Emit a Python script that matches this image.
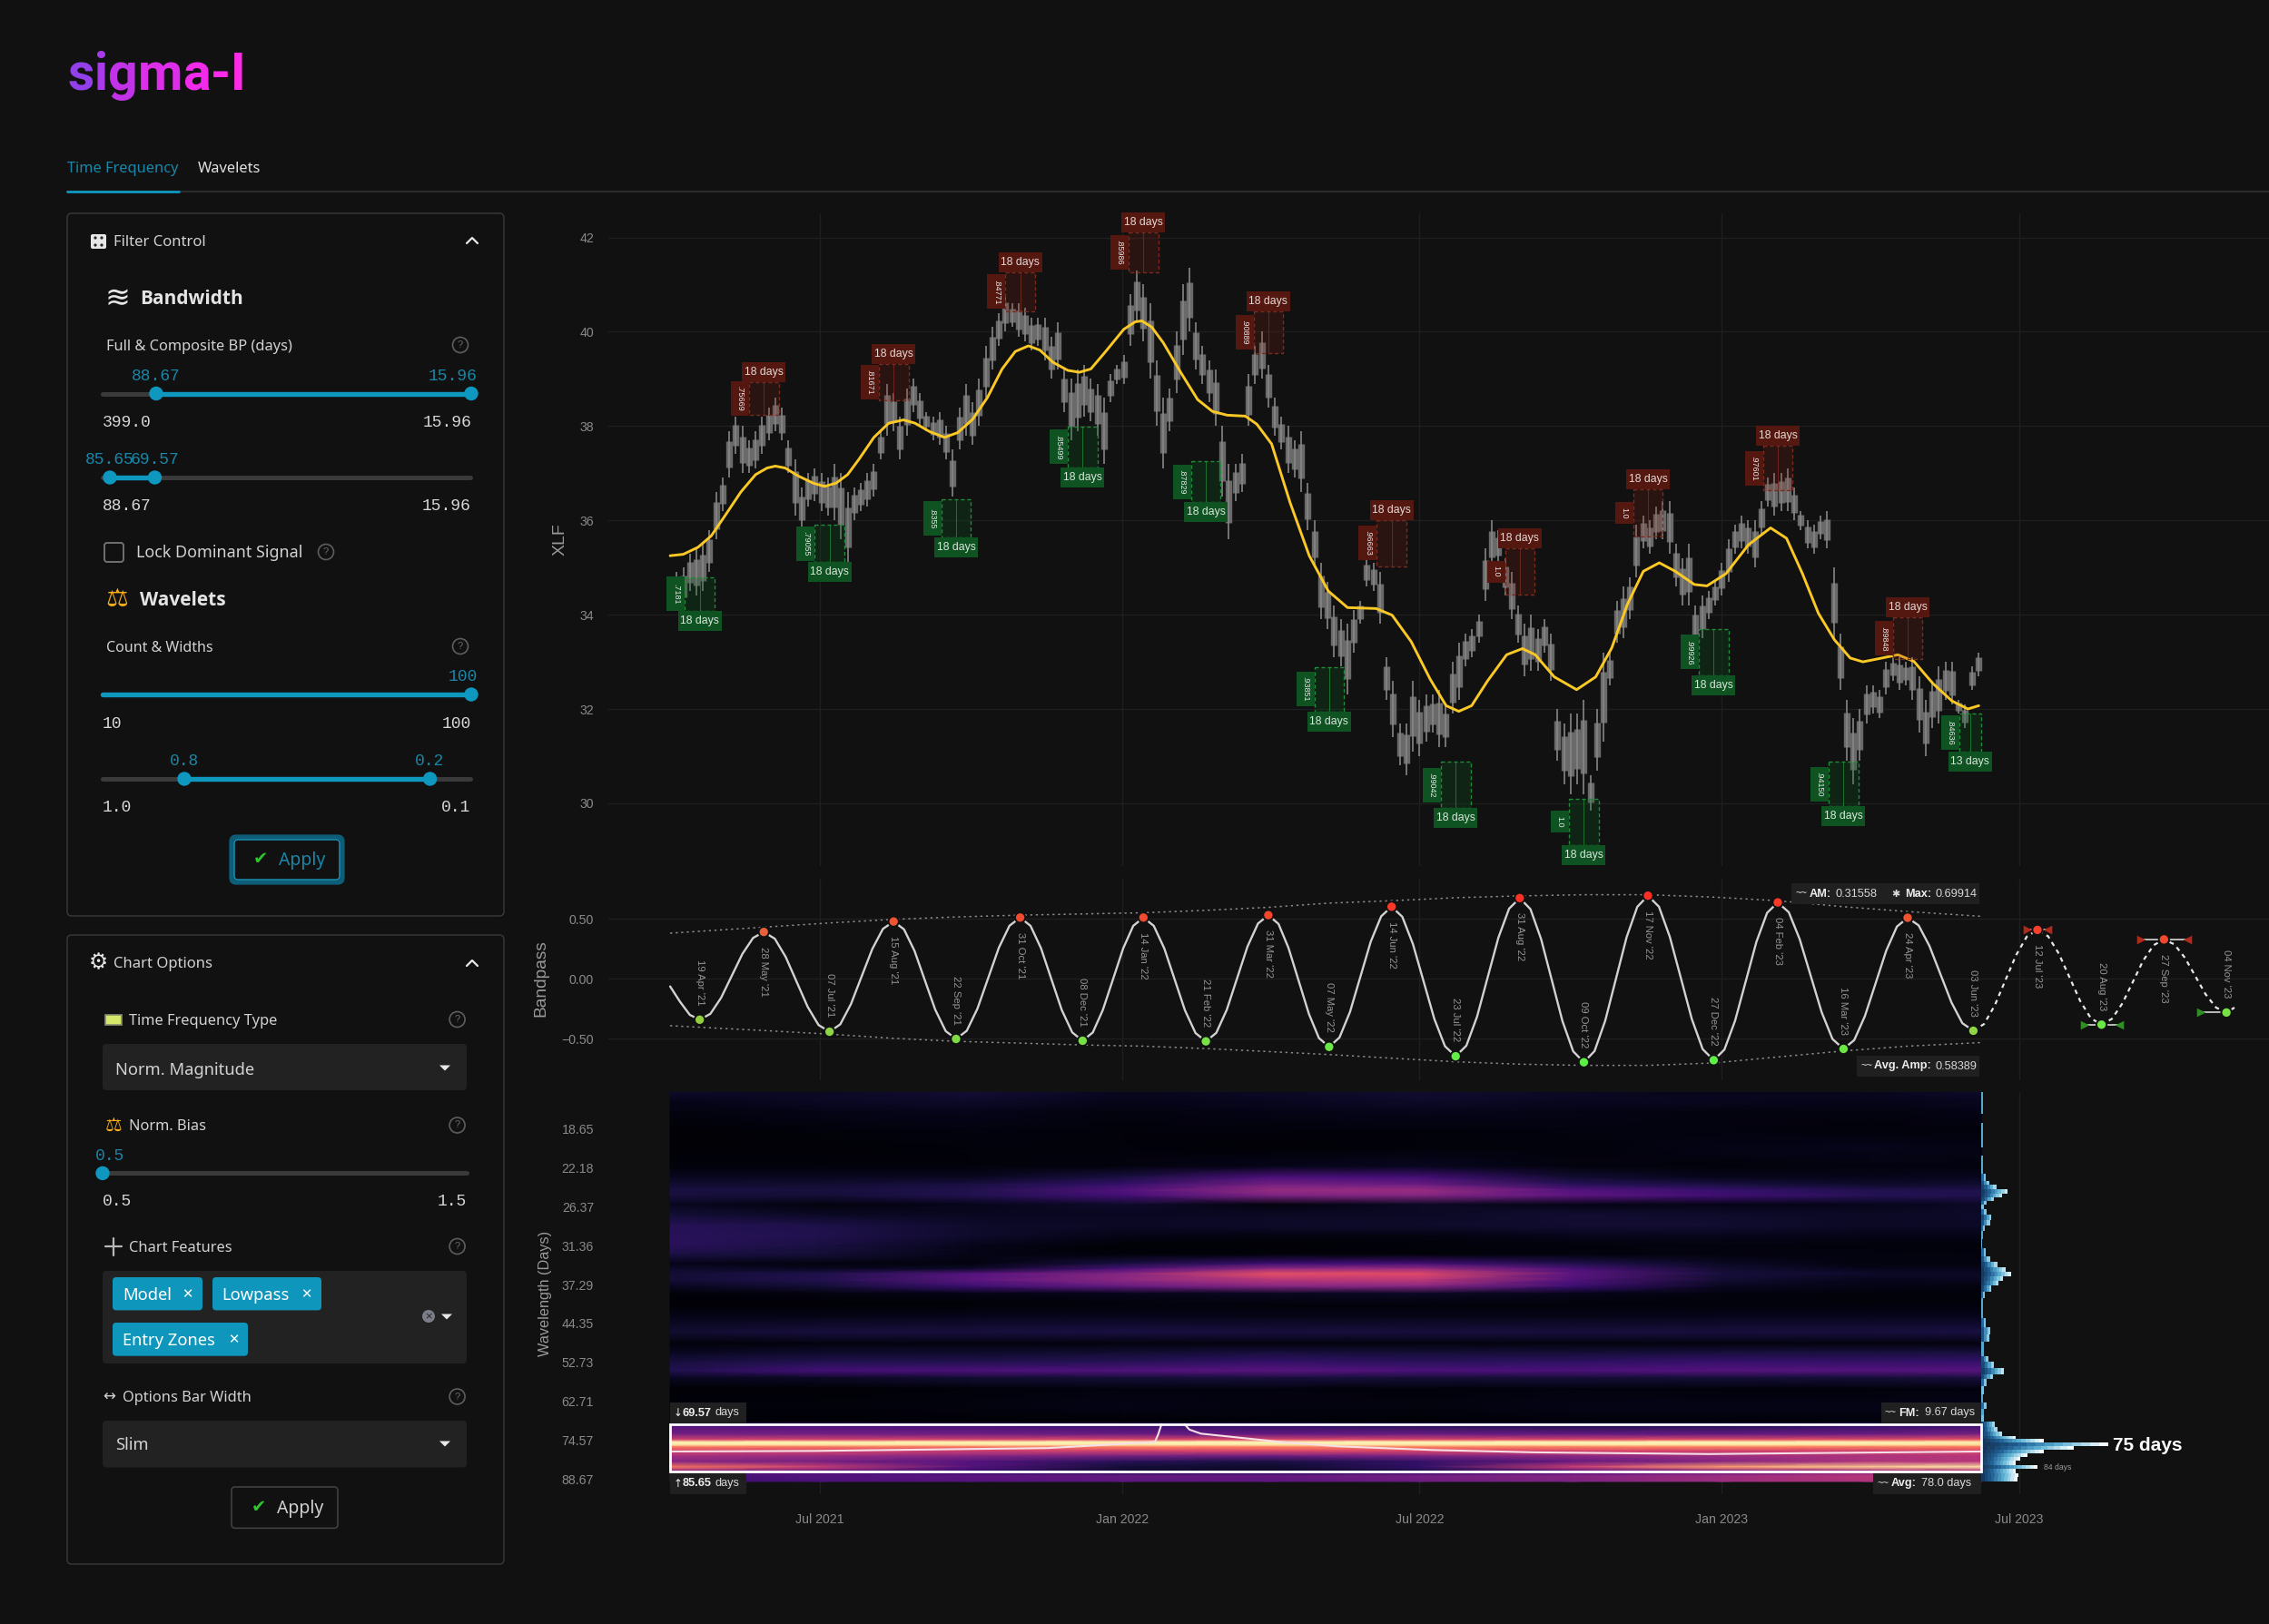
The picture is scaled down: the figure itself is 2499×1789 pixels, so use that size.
import numpy as np, pandas as pd, seaborn as sns
import matplotlib
matplotlib.use("Agg")
import matplotlib.pyplot as plt
import matplotlib.dates as mdates
from matplotlib.patches import Rectangle, FancyBboxPatch, Circle, Polygon
from matplotlib.colors import LinearSegmentedColormap
from matplotlib.ticker import NullLocator

# ---------------- data ----------------
START = pd.Timestamp("2021-04-01")
PRICE_LOW = [34.1,34.3,34.2,34.5,34.4,34.5,34.9,35.6,36.2,36.9,37.4,37.0,37.0,37.1,37.4,37.7,37.9,37.7,37.0,36.1,
 35.8,36.3,36.4,36.2,36.1,36.0,35.6,35.1,36.0,36.2,36.3,36.5,37.3,37.8,37.9,37.3,37.8,38.3,38.0,37.9,
 37.7,37.6,37.3,36.5,37.5,37.8,37.6,38.0,38.6,39.2,39.7,40.0,40.1,39.9,39.8,39.6,39.7,39.4,39.0,39.2,
 38.3,37.7,37.9,38.2,38.1,37.8,37.2,38.5,38.9,38.9,39.7,40.2,39.8,39.0,38.0,37.1,37.9,38.7,39.5,40.0,
 39.2,38.9,38.5,38.0,36.5,35.6,36.4,36.6,38.0,38.9,39.0,38.4,37.8,37.5,37.0,36.9,36.6,35.8,35.0,33.9,
 33.7,33.1,32.9,32.3,33.2,33.8,34.6,34.5,33.8,32.2,31.4,30.8,30.6,31.1,31.0,31.3,31.5,31.2,31.2,31.9,
 32.2,32.9,33.1,33.4,34.3,35.0,35.1,34.4,33.9,33.4,32.7,32.8,32.8,33.2,32.6,30.9,30.4,30.2,30.4,30.2,
 29.85,30.7,31.3,32.5,33.4,33.5,33.9,34.8,35.4,35.3,35.6,35.6,35.3,34.6,34.2,34.2,33.3,33.5,33.9,34.2,
 34.4,34.7,35.3,35.4,35.3,35.0,35.7,36.3,36.1,36.2,36.2,36.0,35.8,35.4,35.3,35.6,35.4,33.5,32.4,30.9,
 30.4,30.9,31.7,31.9,31.8,32.3,32.6,32.4,32.5,32.2,31.5,31.0,31.6,31.7,32.2,32.1,31.9,31.6,32.4,32.7]
PRICE_HIGH = [34.7,34.9,35.0,35.3,35.4,35.5,35.8,36.6,36.9,37.9,38.2,38.0,37.7,37.9,38.2,38.4,38.6,38.4,37.7,37.3,
 36.7,37.0,37.1,37.0,36.9,37.2,37.0,36.6,36.7,36.8,37.0,37.2,37.9,38.9,38.7,38.2,38.8,39.0,38.7,38.3,
 38.2,38.3,38.0,37.5,38.4,38.9,38.5,39.0,39.7,40.1,40.4,40.8,40.6,40.6,40.5,40.3,40.3,40.3,39.9,40.2,
 39.2,39.0,39.2,39.3,39.0,38.9,38.6,39.1,39.3,39.5,40.8,41.3,41.0,40.6,39.4,38.6,38.8,40.0,41.0,41.35,
 40.2,39.7,39.4,39.2,38.0,37.2,37.2,37.4,39.1,39.7,40.0,39.3,38.6,38.2,38.0,37.7,37.9,36.8,36.0,35.1,
 34.7,34.2,33.9,33.8,34.1,34.3,35.2,35.1,34.9,33.1,32.6,31.7,31.7,32.6,32.2,32.3,32.3,32.4,32.1,33.0,
 33.4,33.6,33.7,34.0,35.4,36.0,35.8,35.2,34.9,34.2,33.8,34.0,33.7,33.9,33.6,32.0,31.7,31.9,31.9,32.2,
 30.6,32.0,33.2,33.2,34.3,34.6,34.8,35.9,36.1,36.0,36.3,36.4,36.4,35.5,35.2,35.5,34.2,34.4,34.5,34.7,
 35.1,35.6,35.9,36.1,36.0,36.0,36.4,36.9,37.0,37.0,37.1,36.7,36.2,36.0,35.9,36.1,36.2,35.0,33.6,32.2,
 31.8,32.0,32.5,32.5,32.4,33.0,33.1,33.1,33.0,33.1,32.7,32.2,32.6,32.9,33.0,33.0,32.2,32.1,32.9,33.2]

LOWPASS_DAYS = [0,8,17,25,34,43,52,59,64,70,78,87,94,101,108,115,124,133,142,149,158,167,175,184,193,202,210,218,225,233,
 242,249,256,265,276,283,287,293,300,311,321,330,339,350,357,366,377.3,388.9,400.5,412.2,429.6,439.3,450.9,462.5,472.2,
 479.9,487.7,497.3,509,518.6,526.4,538,551.6,563.2,572.9,582.5,592.2,601.9,611.6,623.2,630.9,642.5,656.1,669.6,679.3,
 689,698.7,708.4,718.1,725.8,737.4,747.1,756.8,768.4,780,789.7,796.3]
LOWPASS = [35.25,35.28,35.43,35.67,36.13,36.6,36.97,37.11,37.15,37.11,36.94,36.79,36.72,36.79,36.97,37.3,37.76,38.06,38.13,38.06,
 37.88,37.76,37.86,38.14,38.6,39.21,39.58,39.7,39.61,39.35,39.18,39.14,39.21,39.58,40.05,40.21,40.23,40.1,39.77,39.12,
 38.56,38.31,38.23,38.21,38.04,37.62,36.37,35.25,34.5,34.15,34.13,33.99,33.43,32.63,32.07,31.95,32.07,32.59,33.15,33.28,
 33.15,32.68,32.41,32.68,33.29,34.22,34.92,35.1,34.92,34.64,34.61,34.87,35.48,35.84,35.62,34.87,34.03,33.47,33.08,33.0,
 33.08,33.15,33.01,32.54,32.17,32.0,32.07]

BAND_DAYS = [0,6,12,18,24.5,31,37.5,44,50.5,57,63.7,70.3,77,83.7,90.3,97,103.5,110,116.5,123,129.5,136,142.3,148.7,155,161.3,167.7,174,
 180.5,187,193.5,200,206.5,213,219.3,225.7,232,238.3,244.7,251,257.2,263.3,269.5,275.7,281.8,288,294.3,300.7,307,313.3,319.7,326,
 332.3,338.7,345,351.3,357.7,364,370.2,376.3,382.5,388.7,394.8,401,407.3,413.7,420,426.3,432.7,439,445.5,452,458.5,465,471.5,478,
 484.5,491,497.5,504,510.5,517,523.5,530,536.5,543,549.5,556,562.5,569,575.5,582,588.5,595,601.7,608.3,615,621.7,628.3,635,
 641.5,648,654.5,661,667.5,674,680.7,687.3,694,700.7,707.3,714,720.5,727,733.5,740,746.5,753,759.7,766.3,773,779.7,786.3,793]
BAND = [-.063,-.19,-.30,-.34,-.291,-.158,.025,.208,.341,.39,.334,.183,-.025,-.233,-.384,-.44,-.379,-.211,.019,.248,.416,.477,.412,.233,-.012,-.256,-.435,-.50,
 -.432,-.248,.005,.258,.442,.51,.441,.254,-.003,-.259,-.446,-.515,-.446,-.259,-.003,.254,.441,.51,.441,.253,-.005,-.263,-.451,-.52,
 -.45,-.258,.005,.268,.46,.53,.457,.256,-.018,-.292,-.493,-.566,-.488,-.275,.017,.309,.521,.6,.517,.289,-.022,-.333,-.561,-.644,
 -.556,-.315,.014,.343,.584,.672,.58,.33,-.011,-.353,-.603,-.694,-.601,-.348,-.001,.346,.599,.692,.6,.35,.008,-.335,-.585,-.677,
 -.589,-.349,-.021,.308,.549,.636,.554,.331,.027,-.278,-.501,-.583,-.51,-.31,-.038,.235,.435,.508,.445,.273,.038,-.197,-.369,-.432]
FORECAST_DAYS = [793,799.5,806,812.5,819,825.5,832,838.5,845,851.5,858,864.5,871,877.3,883.7,890,896.3,902.7,909,915.3,921.7,928,934.3,940.7,947,953]
FORECAST = [-.432,-.376,-.222,-.012,.197,.351,.407,.354,.21,.013,-.184,-.328,-.381,-.333,-.204,-.027,.151,.28,.328,.287,.176,.024,-.128,-.239,-.28,-.23]
ENV_DAYS = [0,57,97,136,174,213,251,288,326,364,401,439,478,517,556,595,635,674,714,753,798]
ENV_UP = [.38,.43,.465,.495,.515,.53,.54,.55,.57,.595,.63,.65,.675,.69,.70,.70,.68,.65,.60,.56,.52]
ENV_LOW = [-.39,-.43,-.46,-.495,-.52,-.535,-.55,-.56,-.58,-.605,-.63,-.66,-.69,-.71,-.72,-.72,-.70,-.65,-.60,-.56,-.53]

EXT_DATES = ["2021-04-19","2021-05-28","2021-07-07","2021-08-15","2021-09-22","2021-10-31","2021-12-08","2022-01-14","2022-02-21","2022-03-31","2022-05-07",
 "2022-06-14","2022-07-23","2022-08-31","2022-10-09","2022-11-17","2022-12-27","2023-02-04","2023-03-16","2023-04-24","2023-06-03",
 "2023-07-12","2023-08-20","2023-09-27","2023-11-04"]
EXT_LABELS = ["19 Apr '21","28 May '21","07 Jul '21","15 Aug '21","22 Sep '21","31 Oct '21","08 Dec '21","14 Jan '22","21 Feb '22","31 Mar '22","07 May '22",
 "14 Jun '22","23 Jul '22","31 Aug '22","09 Oct '22","17 Nov '22","27 Dec '22","04 Feb '23","16 Mar '23","24 Apr '23","03 Jun '23",
 "12 Jul '23","20 Aug '23","27 Sep '23","04 Nov '23"]
EXT_VALUES = [-.34,.39,-.44,.477,-.50,.51,-.515,.51,-.52,.53,-.566,.6,-.644,.672,-.694,.692,-.677,.636,-.583,.508,-.432,.407,-.381,.328,-.28]
EXT_COLORS = ["#93cf3e","#e8603a","#8ed645","#ee5332","#7fdb45","#f24a2e","#78e045","#f24a2e","#76e245","#f4462c","#6ae845",
 "#fa3a28","#62ec45","#fc3226","#5cf045","#fd2e24","#5fee45","#f93a28","#6ae645","#ee5332","#8ed645","#f4402c","#6ae845","#f4482e","#78e245"]
# forecast uncertainty in days: left, right
FC_SPREAD_LEFT = [6,10.5,14,15.5]
FC_SPREAD_RIGHT = [6,10.5,14,0]

RED_DATES = ["2021-05-28","2021-08-15","2021-10-31","2022-01-14","2022-03-31","2022-06-14","2022-08-31","2022-11-17","2023-02-04","2023-04-24"]
RED_TOP = [38.93,39.32,41.26,42.1,40.44,36.0,35.4,36.65,37.58,33.94]
RED_BOTTOM = [38.23,38.54,40.44,41.26,39.55,35.03,34.43,35.66,36.63,33.05]
RED_SCORE = [".75669",".81671",".84771",".85986",".90889",".96663","1.0","1.0",".97601",".89848"]
RED_WIDTH = [18]*10
GREEN_DATES = ["2021-04-19","2021-07-07","2021-09-22","2021-12-08","2022-02-21","2022-05-07","2022-07-23","2022-10-09","2022-12-27","2023-03-16","2023-06-01"]
GREEN_TOP = [34.8,35.9,36.45,37.98,37.25,32.89,30.88,30.1,33.7,30.88,31.9]
GREEN_BOTTOM = [34.08,35.12,35.64,37.13,36.38,31.95,29.9,29.12,32.71,29.94,31.09]
GREEN_SCORE = [".7181",".79055",".8355",".85499",".87829",".93851",".99042","1.0",".99926",".94150",".84636"]
GREEN_WIDTH = [18]*10+[13]

HEAT_DATES = ["2021-04-01","2021-07-01","2021-10-01","2022-01-01","2022-04-01","2022-07-01","2022-10-01","2023-01-01","2023-04-01","2023-06-08"]
HEAT_WL = [15.80,16.38,17.27,18.73,20.31,22.02,23.11,23.88,24.46,25.06,26.10,27.29,28.65,30.07,31.32,32.61,33.96,34.79,35.50,36.52,37.58,38.81,40.74,
 42.95,46.00,48.49,50.50,52.58,54.76,56.56,59.37,64.38,68.69,69.81,72.70,74.49,75.20,75.70,76.30,76.94,78.20,80.12,82.10,84.11,85.48,86.18,87.58,89.73]
HEAT = [
[.08,.07,.10,.06,.07,.09,.07,.05,.06,.08],[.05,.07,.08,.05,.06,.08,.06,.06,.05,.06],[.03,.04,.05,.03,.04,.05,.04,.03,.03,.04],
[.01,.02,.03,.02,.02,.02,.03,.03,.02,.02],[.01,.01,.02,.02,.01,.02,.02,.04,.05,.04],[.02,.02,.02,.03,.05,.06,.03,.02,.03,.03],
[.06,.06,.06,.12,.24,.22,.09,.05,.05,.06],[.09,.09,.12,.19,.34,.32,.16,.12,.08,.09],[.12,.11,.14,.25,.42,.43,.26,.19,.14,.13],
[.11,.10,.14,.22,.36,.38,.28,.21,.15,.14],[.06,.03,.05,.08,.03,.07,.04,.04,.05,.07],[.10,.07,.06,.06,.07,.07,.09,.08,.07,.08],
[.15,.13,.08,.07,.08,.08,.09,.09,.07,.07],[.16,.14,.08,.04,.03,.03,.05,.05,.04,.04],[.16,.12,.05,.01,.01,.02,.02,.03,.02,.02],
[.12,.10,.04,.02,.02,.02,.03,.03,.03,.03],[.05,.03,.03,.12,.20,.22,.14,.07,.03,.03],[.08,.06,.08,.24,.42,.44,.24,.09,.05,.05],
[.10,.13,.26,.38,.62,.60,.28,.11,.08,.07],[.10,.14,.28,.40,.50,.52,.26,.09,.05,.06],[.06,.10,.20,.30,.38,.38,.20,.06,.04,.03],
[.02,.03,.04,.05,.06,.07,.05,.03,.02,.02],[.01,.01,.01,.02,.02,.02,.02,.02,.02,.02],[.04,.04,.05,.05,.04,.04,.04,.05,.05,.05],
[.09,.11,.11,.12,.11,.11,.11,.11,.11,.12],[.02,.03,.03,.03,.03,.03,.03,.03,.03,.03],[.06,.08,.08,.09,.11,.10,.10,.11,.11,.11],
[.11,.14,.14,.15,.18,.16,.17,.19,.18,.19],[.14,.22,.24,.25,.27,.24,.24,.26,.26,.27],[.06,.07,.09,.10,.11,.10,.10,.10,.10,.11],
[.01,.01,.02,.03,.03,.02,.03,.02,.02,.03],[.02,.02,.03,.04,.03,.03,.04,.04,.04,.05],[.01,.01,.01,.01,.02,.01,.02,.02,.02,.03],
[.26,.24,.23,.20,.18,.16,.14,.15,.18,.20],[.34,.34,.33,.32,.30,.32,.30,.30,.32,.35],[.58,.58,.58,.60,.60,.60,.60,.62,.62,.64],
[.95,.95,.95,.96,.96,.96,.96,.96,.95,.94],[.98,.98,.98,.98,.98,.98,.98,.98,.97,.96],[.93,.93,.93,.94,.94,.94,.94,.94,.93,.92],
[.72,.72,.72,.74,.74,.74,.74,.74,.73,.72],[.58,.58,.56,.58,.60,.60,.60,.58,.58,.60],[.46,.43,.38,.34,.32,.36,.40,.44,.48,.50],
[.38,.34,.26,.16,.12,.18,.30,.38,.48,.50],[.72,.55,.26,.10,.08,.18,.55,.80,.90,.95],
[.42,.34,.20,.10,.08,.14,.30,.40,.46,.50],[.26,.24,.20,.16,.16,.20,.26,.32,.40,.44],[.22,.26,.28,.30,.30,.34,.38,.44,.50,.50],
[.20,.24,.26,.28,.28,.32,.36,.44,.48,.50]]
WL_TICKS = [18.65,22.18,26.37,31.36,37.29,44.35,52.73,62.71,74.57,88.67]
MODEL_DAYS = [0,89,159,230,265,295,297,299,np.nan,313,316,323,371,406,465,526,632,798]
MODEL_WL = [78.5,78.3,77.8,77.3,76.2,75.2,72.7,69.5,np.nan,69.5,71.2,72.5,75.2,76.7,78.0,78.8,79.4,78.5]

HIST_WL = [16.03,16.58,17.15,17.75,18.45,19.09,19.83,20.56,21.4,22.3,23.27,23.7,24.08,24.67,25.07,25.5,25.9,26.4,26.9,27.6,28.3,28.9,29.9,31.1,32.4,33.3,34.2,34.9,35.5,36.3,37.1,37.8,
 39.1,40.2,42.4,44.2,46.0,47.3,48.9,50.6,52.0,53.1,55.0,56.1,57.6,59.6,62.1,64.2,65.5,67.8,69.6,71.0,72.5,73.8,74.8,75.9,77.4,78.6,79.7,81.0,82.6,84.1,85.7,87.2,89.0]
HIST_VAL = [3,3,3,0,3,3,3,0,3,3,8,14,26,46,36,22,10,5,10,18,15,6,3,2,8,15,28,42,52,38,30,18,
 6,3,3,8,16,14,4,4,12,22,40,20,10,5,3,10,4,5,24,28,36,60,108,220,160,108,80,68,60,98,60,64,62]

XTICK_DATES = ["2021-07-01","2022-01-01","2022-07-01","2023-01-01","2023-07-01"]
PRICE_TICKS = [30,32,34,36,38,40,42]
BAND_TICKS = [-.5,0,.5]

# ---------------- style ----------------
W, H = 2499, 1789
BG = "#111111"; GRID = "#1f1f1f"; TICK = "#8a8a8a"; TEAL = "#1a86a8"; ACTIVE = "#0f98bf"
sns.set_theme(style="darkgrid", rc={"figure.facecolor": BG, "axes.facecolor": BG, "savefig.facecolor": BG,
    "grid.color": GRID, "grid.linewidth": 1.0, "axes.edgecolor": BG, "axes.linewidth": 0})
plt.rcParams["font.family"] = ["Liberation Sans", "DejaVu Sans"]
NARROW = ["Liberation Sans", "DejaVu Sans"]
SANS = ["Liberation Sans", "DejaVu Sans"]
UI = ["Noto Sans", "DejaVu Sans"]
HEAD = ["Open Sans", "DejaVu Sans"]
MONO = ["Liberation Mono", "DejaVu Sans Mono"]
SYM = ["DejaVu Sans"]

fig = plt.figure(figsize=(W/100, H/100), dpi=100, facecolor=BG)
def px_axes(l, t, r, b, **kw):
    return fig.add_axes([l/W, 1-b/H, (r-l)/W, (b-t)/H], **kw)
def when(days):
    return [START + pd.Timedelta(days=float(d)) for d in days]

XL = (START - pd.Timedelta(days=37.6), START + pd.Timedelta(days=972.9))
xticks = pd.to_datetime(XTICK_DATES)

def style(ax, yticks, labels):
    ax.set_xlim(*XL)
    ax.set_xticks(xticks)
    ax.set_yticks(yticks, labels=labels)
    ax.tick_params(axis="y", length=0, pad=11.5, labelsize=10.2, labelcolor=TICK)
    ax.tick_params(axis="x", length=0, labelbottom=False)
    ax.grid(True, color=GRID, lw=1)
    ax.set_xlabel(""); ax.set_ylabel("")
    ax.set_axisbelow(True)

# ---- price panel
ax = px_axes(670, 234.5, W, 954)
pdates = pd.date_range(START, periods=len(PRICE_LOW), freq="4D")
low, high = np.array(PRICE_LOW), np.array(PRICE_HIGH)
ax.vlines(pdates, low + (high-low)*.22, high - (high-low)*.22, color="#6a6a6a", lw=5.3, zorder=2)
ax.vlines(pdates, low, high, color="#868686", lw=1.2, zorder=2)
sns.lineplot(x=when(LOWPASS_DAYS), y=LOWPASS, ax=ax, color="#fbc925", lw=2.1, estimator=None, sort=False, zorder=4, solid_joinstyle="round")
ax.set_ylim(28.67, 42.52)
style(ax, PRICE_TICKS, [str(v) for v in PRICE_TICKS])

# ---- bandpass panel
bx = px_axes(670, 968, W, 1190)
sns.lineplot(x=when(ENV_DAYS), y=ENV_UP, ax=bx, color="#8a8a8a", lw=1.1, ls=(0, (1.5, 2.5)), estimator=None, sort=False)
sns.lineplot(x=when(ENV_DAYS), y=ENV_LOW, ax=bx, color="#8a8a8a", lw=1.1, ls=(0, (1.5, 2.5)), estimator=None, sort=False)
sns.lineplot(x=when(BAND_DAYS), y=BAND, ax=bx, color="#d2d2d2", lw=1.7, estimator=None, sort=False)
sns.lineplot(x=when(FORECAST_DAYS), y=FORECAST, ax=bx, color="#e8e8e8", lw=1.6, ls=(0, (2.2, 2.2)), estimator=None, sort=False)
ext = pd.to_datetime(EXT_DATES)
n_fc = len(FC_SPREAD_LEFT)
for i in range(n_fc):
    d = ext[-n_fc + i]; v = EXT_VALUES[-n_fc + i]
    up = v > 0
    col = "#b02a1c" if up else "#2f8f24"
    L = d - pd.Timedelta(days=FC_SPREAD_LEFT[i]); R = d + pd.Timedelta(days=FC_SPREAD_RIGHT[i])
    bx.plot([L, R], [v, v], color="#c8c8c8", lw=1.3, zorder=3)
    bx.scatter([L], [v], marker=">", s=48, color=col, zorder=4, linewidths=0)
    if FC_SPREAD_RIGHT[i] > 0:
        bx.scatter([R], [v], marker="<", s=48, color=col, zorder=4, linewidths=0)
sns.scatterplot(x=ext, y=EXT_VALUES, ax=bx, c=EXT_COLORS, s=66, edgecolor=BG, linewidth=1.4, zorder=5)
for d, v, lab in zip(ext, EXT_VALUES, EXT_LABELS):
    up = v > 0
    bx.annotate(lab, (d, v), xytext=(0, -11.5 if up else 11.5), textcoords="offset points", rotation=270,
                ha="center", va="top" if up else "bottom", fontsize=8.1, color="#959595", family=SANS, zorder=6)
bx.set_ylim(-.8437, .833)
style(bx, BAND_TICKS, ["\u22120.50", "0.00", "0.50"])

# ---- wavelet heat panel
hx = px_axes(670, 1203, W, 1646)
hx.set_yscale("log")
hdates = mdates.date2num(pd.to_datetime(HEAT_DATES))
hx.pcolormesh(hdates, np.array(HEAT_WL), np.array(HEAT), cmap="magma", vmin=0, vmax=1, shading="gouraud", zorder=2, rasterized=True)
md = mdates.date2num(START) + np.array(MODEL_DAYS, dtype=float)
hx.plot(md, MODEL_WL, color="#f6dfe6", lw=1.5, zorder=4)
hx.set_ylim(94.97, 15.80)
style(hx, WL_TICKS, [f"{v:.2f}" for v in WL_TICKS])
hx.yaxis.set_minor_locator(NullLocator())
hx.grid(True, axis="y", color=BG, lw=0)
hx.tick_params(axis="x", labelbottom=True, pad=15, labelsize=10.2, labelcolor=TICK)
hx.xaxis.set_major_formatter(mdates.DateFormatter("%b %Y"))

# ---- marginal histogram
mx = px_axes(2182, 1203, 2182+300, 1646, frameon=False)
mx.set_yscale("log"); mx.set_ylim(94.97, 15.80); mx.set_xlim(0, 300*1.5696)
mx.axis("off")
hw = np.array(HIST_WL)
edges = np.concatenate([[hw[0]*.985], np.sqrt(hw[:-1]*hw[1:]), [hw[-1]*1.01]])
bcm = LinearSegmentedColormap.from_list("b", ["#122a48", "#1f5f94", "#5fb4d6", "#f2fbfd"])
for i, v in enumerate(HIST_VAL):
    if v <= 0: continue
    n = max(1, min(14, int(v/6)+1))
    seg = v/n
    tip = min(1, .7 + v/220)
    for k in range(n):
        mx.barh(edges[i], seg, height=edges[i+1]-edges[i], left=k*seg, align="edge",
                color=bcm((k+1)/n*tip if v > 4 else .62), linewidth=0)

# ---- overlay for annotations and sidebar (pixel canvas)
ui = fig.add_axes([0, 0, 1, 1], frameon=False, zorder=10)
ui.set_xlim(0, W); ui.set_ylim(H, 0); ui.axis("off")
def data_px(a, d, v):
    x, y = a.transData.transform((mdates.date2num(d), v))
    return x, H - y
def T(x, y, s, size=12, color="#d6d6d6", family=UI, ha="left", va="center", **kw):
    if family in (UI, MONO, HEAD):
        y += 1.5
    return ui.text(x, y, s, fontsize=size, color=color, family=family, ha=ha, va=va, **kw)
def box(x0, y0, x1, y1, fc, ec="none", lw=0, r=0, z=3, alpha=None, ls="-"):
    if r:
        p = FancyBboxPatch((x0+r, y0+r), x1-x0-2*r, y1-y0-2*r, boxstyle=f"round,pad={r},rounding_size={r}",
                           fc=fc, ec=ec, lw=lw, zorder=z, alpha=alpha, ls=ls)
    else:
        p = Rectangle((x0, y0), x1-x0, y1-y0, fc=fc, ec=ec, lw=lw, zorder=z, alpha=alpha, ls=ls)
    ui.add_patch(p)
    return p

# entry zones
def zones(dates, tops, bottoms, scores, widths, red):
    fill = (0.55, 0.14, 0.09, .20) if red else (0.05, 0.36, 0.12, .26)
    edge = "#7a2a1e" if red else "#1f8a38"
    lab = "#551810" if red else "#0f5322"
    for d, t, b, s, w in zip(pd.to_datetime(dates), tops, bottoms, scores, widths):
        L, yt = data_px(ax, d - pd.Timedelta(days=w/2), t)
        R, yb = data_px(ax, d + pd.Timedelta(days=w/2), b)
        box(L, yt, R, yb, fill, ec=edge, lw=1.0, ls=(0, (3, 2)), z=3)
        ui.plot([(L+R)/2]*2, [yt, yb], color=edge, lw=.7, zorder=3, alpha=.8)
        cx = (L+R)/2
        if red:
            box(cx-24, yt-22, cx+24, yt, lab, z=4); T(cx, yt-11, f"{w} days", 8.8, "#e4d9d6", NARROW, ha="center", zorder=5)
        else:
            box(cx-24, yb, cx+24, yb+22, lab, z=4); T(cx, yb+11, f"{w} days", 8.8, "#dbe6dc", NARROW, ha="center", zorder=5)
        hh = 12 if s == "1.0" else 19
        my = (yt+yb)/2
        box(L-20, my-hh, L, my+hh, lab, z=4)
        T(L-10, my, s, 6.5, "#e8e8e8", SANS, ha="center", rotation=270, zorder=5)
zones(RED_DATES, RED_TOP, RED_BOTTOM, RED_SCORE, RED_WIDTH, True)
zones(GREEN_DATES, GREEN_TOP, GREEN_BOTTOM, GREEN_SCORE, GREEN_WIDTH, False)

# axis titles
T(617, 594, "XLF", 14, "#9a9a9a", SANS, ha="center", rotation=90)
T(596, 1078, "Bandpass", 13.8, "#9a9a9a", SANS, ha="center", rotation=90)
T(601, 1425, "Wavelength (Days)", 11.7, "#9a9a9a", SANS, ha="center", rotation=90)

# selection strip
SX0, SX1 = data_px(hx, START, 80)[0], data_px(hx, START + pd.Timedelta(days=798), 80)[0]
box(SX0, 1568.5, SX1, 1621, "none", ec="#ffffff", lw=2.0, z=5)
CH = "#202020"
box(1973, 973, 2180, 996, CH, z=4)
T(1978, 984.5, "~~", 8, "#dddddd", NARROW, zorder=5); T(1993, 984.5, "AM:", 9.2, "#eeeeee", NARROW, weight="bold", zorder=5)
T(2021, 984.5, "0.31558", 9.2, "#d8d8d8", NARROW, zorder=5); T(2083, 984.5, "\u2731", 8, "#dddddd", SYM, zorder=5)
T(2098, 984.5, "Max:", 9.2, "#eeeeee", NARROW, weight="bold", zorder=5); T(2131, 984.5, "0.69914", 9.2, "#d8d8d8", NARROW, zorder=5)
box(2045, 1163, 2180, 1186, CH, z=4)
T(2049, 1174.5, "~~", 8, "#dddddd", NARROW, zorder=5); T(2064, 1174.5, "Avg. Amp:", 9.2, "#eeeeee", NARROW, weight="bold", zorder=5)
T(2131, 1174.5, "0.58389", 9.2, "#d8d8d8", NARROW, zorder=5)
box(738, 1545, 822, 1568, CH, z=4); T(742, 1556.5, "\u2193", 8.5, "#eeeeee", SYM, zorder=5); T(752, 1556.5, "69.57", 9.2, "#eeeeee", NARROW, weight="bold", zorder=5); T(787, 1556.5, "days", 9.2, "#d8d8d8", NARROW, zorder=5)
box(738, 1622, 822, 1646, CH, z=4); T(742, 1634, "\u2191", 8.5, "#eeeeee", SYM, zorder=5); T(752, 1634, "85.65", 9.2, "#eeeeee", NARROW, weight="bold", zorder=5); T(787, 1634, "days", 9.2, "#d8d8d8", NARROW, zorder=5)
box(2072, 1545, 2182, 1568, CH, z=4); T(2076, 1556.5, "~~", 8, "#dddddd", NARROW, zorder=5); T(2091, 1556.5, "FM:", 9.2, "#eeeeee", NARROW, weight="bold", zorder=5); T(2120, 1556.5, "9.67 days", 9.2, "#d8d8d8", NARROW, zorder=5)
box(2063, 1623, 2182, 1646, CH, z=4); T(2068, 1634.5, "~~", 8, "#dddddd", NARROW, zorder=5); T(2083, 1634.5, "Avg:", 9.2, "#eeeeee", NARROW, weight="bold", zorder=5); T(2116, 1634.5, "78.0 days", 9.2, "#d8d8d8", NARROW, zorder=5)
T(2327, 1592, "75 days", 15, "#ffffff", NARROW, weight="bold", zorder=5)
T(2251, 1616.7, "84 days", 6.2, "#9a9a9a", NARROW, zorder=5)

# ---------------- sidebar ----------------
LOGO = [("s", "#9440ea"), ("i", "#a83ae9"), ("g", "#c233e8"), ("m", "#dd2ee9"), ("a", "#f22beb"), ("-", "#fb2aea"), ("I", "#ff2ae8")]
rend = fig.canvas.get_renderer()
word = "".join(c for c, _ in LOGO)
LOGO_KW = dict(fontsize=41, family=["Roboto", "DejaVu Sans"], weight="bold", va="baseline", ha="left")
for i, (c, col) in enumerate(LOGO):
    probe = ui.text(0, 0, word[:i] + "|", **LOGO_KW)
    bar = ui.text(0, 0, "|", **LOGO_KW)
    dx = probe.get_window_extent(rend).width - bar.get_window_extent(rend).width
    probe.remove(); bar.remove()
    ui.text(75 + dx, 99, c, color=col, **LOGO_KW)

T(74, 184, "Time Frequency", 11.8, TEAL)
T(218, 184, "Wavelets", 11.8, "#e0e0e0")
ui.plot([74, W], [211, 211], color="#2b2b2b", lw=1.6, zorder=1)
ui.plot([74, 197], [211, 211], color=ACTIVE, lw=2, zorder=2)

PANEL = "#3a3a3a"
box(74, 235, 555, 1009, "none", ec=PANEL, lw=1, r=5)
box(74, 1030, 555, 1723, "none", ec=PANEL, lw=1, r=5)
def chevron(x, y):
    ui.plot([x-6, x, x+6], [y+3, y-3, y+3], color="#e8e8e8", lw=1.6, solid_capstyle="round", zorder=4)
def helpicon(x, y):
    ui.add_patch(Circle((x, y), 8.5, fc="none", ec="#5d5d5d", lw=1.2, zorder=4))
    T(x, y, "?", 8, "#6a6a6a", SANS, ha="center", zorder=5)
def caret(x, y):
    ui.add_patch(Polygon([[x-6, y-2.5], [x+6, y-2.5], [x, y+3.5]], fc="#e8e8e8", ec="none", zorder=5))
def slider(y, x0, x1, a, b, low_lab, high_lab, vals, label_y, thumbs=None):
    ui.plot([x0, x1], [y, y], color="#3a3a3a", lw=3.6, solid_capstyle="round", zorder=3)
    ui.plot([a, b], [y, y], color=ACTIVE, lw=3.9, solid_capstyle="round", zorder=4)
    for tx in (thumbs if thumbs is not None else sorted({a, b})):
        ui.add_patch(Circle((tx, y), 7.7, fc=ACTIVE, ec="none", zorder=5))
    T(x0, label_y, low_lab, 13, "#d8d8d8", MONO)
    T(x1, label_y, high_lab, 13, "#d8d8d8", MONO, ha="right")
    for vx, vy, s in vals:
        T(vx, vy, s, 13, TEAL, MONO, ha="center")

# filter control
box(100, 258, 117, 274, "#e6e6e6", r=2, z=4)
for a_, b_ in [(105, 262), (112, 262), (105, 270), (112, 270)]:
    ui.add_patch(Circle((a_, b_), 1.6, fc="#222222", ec="none", zorder=5))
T(125, 265.5, "Filter Control", 12, "#d2d2d2")
chevron(520, 265)
T(115, 328, "\u224b", 24, "#e6e6e6", SYM)
T(154, 328, "Bandwidth", 15, "#e4e4e4", HEAD, weight="bold")
T(117, 381, "Full & Composite BP (days)", 11.8, "#d2d2d2")
helpicon(507, 380)
slider(433.5, 113, 519, 172, 519, "399.0", "15.96", [(172, 413, "88.67"), (499, 413, "15.96")], 464)
slider(526, 113, 518, 121, 170.5, "88.67", "15.96", [(121, 505, "85.65"), (170.5, 505, "69.57")], 556)
box(115, 598, 136, 619, "none", ec="#707070", lw=1.4, r=3, z=4)
T(150, 608, "Lock Dominant Signal", 12.9, "#d2d2d2")
helpicon(359, 608)
T(116, 660, "\u2696", 20, "#f4ad1c", SYM)
T(154, 660, "Wavelets", 15, "#e4e4e4", HEAD, weight="bold")
T(117, 712, "Count & Widths", 11.5, "#d2d2d2")
helpicon(507, 712)
slider(765, 113, 519, 113, 519, "10", "100", [(510, 744, "100")], 796, thumbs=[519])
slider(858, 113, 518, 203, 473.6, "1.0", "0.1", [(203, 837, "0.8"), (473, 837, "0.2")], 888)
box(255, 922, 377, 972, "none", ec="#0d5c78", lw=3.8, r=5, z=4)
box(258, 925, 374, 969, "none", ec="#1a9bc0", lw=1, r=4, z=5)
T(279, 947, "\u2714", 14, "#2fc52f", SYM, zorder=6)
T(307, 947, "Apply", 14, TEAL, zorder=6)

# chart options
ui.text(108, 1060, "\u2699", fontsize=17, color="#e6e6e6", family=SYM, ha="center", va="center")
T(125, 1060.5, "Chart Options", 12, "#d2d2d2")
chevron(520, 1061)
box(116, 1118, 134, 1129, "#d6e86a", ec="#8a8a70", lw=1.2, z=4)
T(142, 1123.5, "Time Frequency Type", 11.8, "#d2d2d2")
helpicon(503.6, 1123)
box(113, 1150, 514, 1201, "#222222", r=4)
T(127, 1177, "Norm. Magnitude", 13.2, "#d2d2d2")
caret(490, 1176)
T(116, 1239.5, "\u2696", 15, "#f4ad1c", SYM)
T(142, 1239.6, "Norm. Bias", 11.8, "#d2d2d2")
helpicon(503.6, 1239.5)
slider(1292.4, 113, 514, 113, 113, "0.5", "1.5", [(121, 1271.8, "0.5")], 1322)
ui.plot([116, 134], [1373.4, 1373.4], color="#b8b8b8", lw=1.6, zorder=4)
ui.plot([125, 125], [1364, 1383], color="#b8b8b8", lw=1.6, zorder=4)
T(142, 1373.4, "Chart Features", 11.8, "#d2d2d2")
helpicon(503.6, 1373)
box(113, 1400, 514, 1502, "#222222", r=4)
for x0, x1, y0, y1, tx, lab, cx in [(124, 223, 1407, 1443.4, 135, "Model", 206), (234, 354, 1407, 1443.4, 244, "Lowpass", 337), (124, 273, 1457, 1493.7, 135, "Entry Zones", 257)]:
    box(x0, y0, x1, y1, "#0f96bc", r=4, z=4)
    T(tx, (y0+y1)/2, lab, 13.2, "#ffffff", zorder=5)
    T(cx, (y0+y1)/2, "\u2715", 10.5, "#ffffff", SYM, ha="center", zorder=5)
ui.add_patch(Circle((472, 1450), 7, fc="#7b7d88", ec="none", zorder=5))
T(472, 1450, "\u00d7", 8, "#222222", SYM, ha="center", zorder=6)
caret(492, 1450)
T(113, 1539, "\u2194", 12, "#d2d2d2", SYM)
T(135, 1538.5, "Options Bar Width", 11.8, "#d2d2d2")
helpicon(503.6, 1538.5)
box(113, 1565, 514, 1616.5, "#222222", r=4)
T(127, 1590.8, "Slim", 13.2, "#d2d2d2")
caret(490, 1590)
box(255, 1638, 372, 1683.4, "none", ec="#444444", lw=1.1, r=4, z=4)
T(277, 1661, "\u2714", 14, "#2fc52f", SYM, zorder=6)
T(305, 1661, "Apply", 14, "#d0d0d0", zorder=6)

fig.savefig("out.png", dpi=100, facecolor=BG)
